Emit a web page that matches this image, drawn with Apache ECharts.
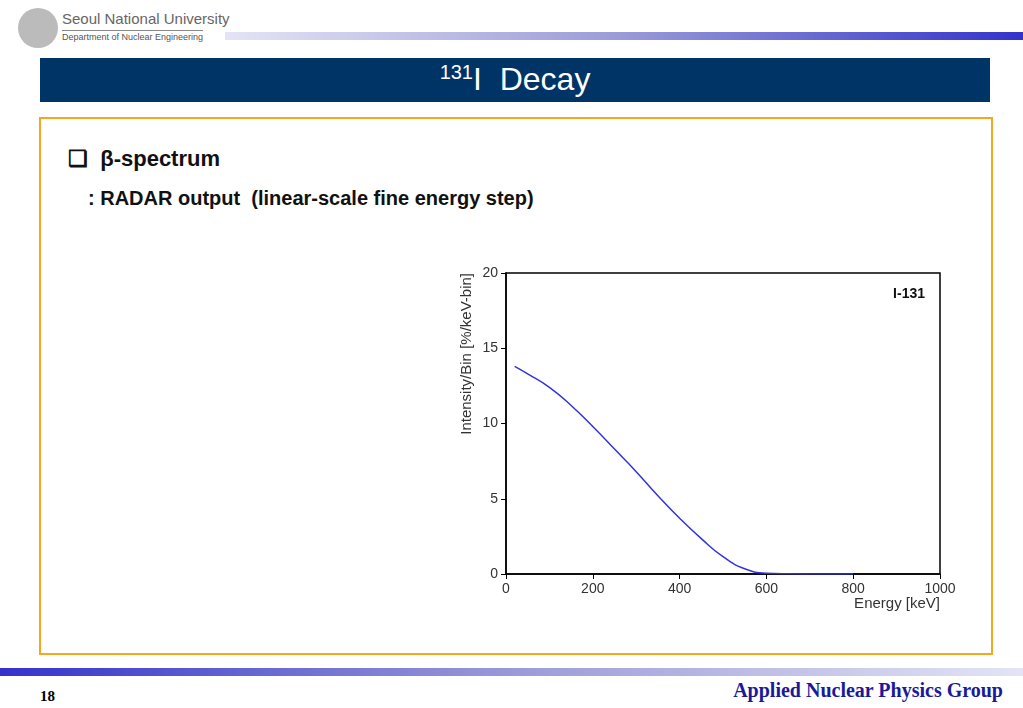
<!DOCTYPE html>
<html><head><meta charset="utf-8">
<script src="https://cdn.jsdelivr.net/npm/echarts@6/dist/echarts.min.js"></script>
<style>
body{margin:0;width:1023px;height:708px;position:relative;background:#fff;font-family:Arial,"Liberation Sans",sans-serif;overflow:hidden}
.abs{position:absolute}
</style></head><body>
<div class="abs" style="left:18px;top:8px;width:40px;height:40px;border-radius:50%;background:#bbb"></div>
<div class="abs" style="left:62px;top:10px;font-size:15px;color:#666">Seoul National University</div>
<div class="abs" style="left:62px;top:30px;font-size:9px;color:#555;border-top:1px solid #888;padding-top:1px">Department of Nuclear Engineering</div>
<div class="abs" style="left:225px;top:32px;width:798px;height:8px;background:linear-gradient(90deg,#e4e4f6,#9a9ad8 50%,#3333cc)"></div>
<div class="abs" style="left:40px;top:58px;width:950px;height:44px;background:#003366"></div>
<div class="abs" style="left:40px;top:60px;width:950px;color:#fff;text-align:center;font-size:32px;line-height:38px"><span style="font-size:20px;position:relative;top:-11px">131</span>I&nbsp; Decay</div>
<div class="abs" style="left:39px;top:117px;width:950px;height:534px;border:2px solid #f5a623"></div>
<div class="abs" style="left:68px;top:146px;font-size:22px;font-weight:bold;color:#111">&#10063;&nbsp; β-spectrum</div>
<div class="abs" style="left:88px;top:187px;font-size:20px;font-weight:bold;color:#111">: RADAR output&nbsp; (linear-scale fine energy step)</div>
<div class="abs" style="left:0;top:668px;width:1023px;height:8px;background:linear-gradient(90deg,#3333cc,#9a9ad8 50%,#e4e4f6)"></div>
<div class="abs" style="left:40px;top:688px;font-size:15px;font-weight:bold;font-family:'Liberation Serif',serif">18</div>
<div class="abs" style="right:20px;top:679px;font-size:20px;font-weight:bold;color:#1a1a99;font-family:'Liberation Serif',serif">Applied Nuclear Physics Group</div>
<div id="chart" class="abs" style="left:440px;top:260px;width:530px;height:360px"></div>
<script>
const energy = [20, 50, 100, 150, 200, 250, 300, 350, 400, 450, 500, 550, 600, 650, 700, 800];
const intensity = [13.8, 13.3, 12.4, 11.2, 9.8, 8.3, 6.8, 5.2, 3.7, 2.35, 1.15, 0.35, 0.05, 0.01, 0, 0];
const seriesData = energy.map((e, i) => [e, intensity[i]]);
const chart = echarts.init(document.getElementById('chart'));
const axisCommon = {
  axisLine: {show: true, lineStyle: {color: '#000', width: 1.5}},
  axisTick: {show: true, length: 5, lineStyle: {color: '#000'}},
  axisLabel: {color: '#333', fontSize: 14, formatter: v => String(v)},
  splitLine: {show: false}
};
chart.setOption({
  animation: false,
  grid: {left: 66, right: 30, top: 13, bottom: 46, containLabel: false, outerBoundsMode: 'none',
    show: true, borderColor: '#000', borderWidth: 1.5},
  title: {text: 'I-131', right: 40, top: 22, textStyle: {fontSize: 14, fontWeight: 'bold', color: '#111'}},
  xAxis: Object.assign({type: 'value', min: 0, max: 1000, interval: 200, name: 'Energy [keV]',
    nameLocation: 'end', nameGap: 0, nameTextStyle: {fontSize: 15, color: '#333', align: 'right', verticalAlign: 'top', padding: [22, 0, 0, 0]}}, axisCommon),
  yAxis: Object.assign({type: 'value', min: 0, max: 20, interval: 5, name: 'Intensity/Bin [%/keV-bin]',
    nameLocation: 'end', nameRotate: 90, nameGap: 0, nameTextStyle: {fontSize: 15, color: '#333', align: 'right', verticalAlign: 'bottom', padding: [0, 0, 32, 0]}}, axisCommon),
  series: [{type: 'line', data: seriesData, smooth: true, symbol: 'none', lineStyle: {color: '#3333dd', width: 1.5}}]
});
</script>
</body></html>
